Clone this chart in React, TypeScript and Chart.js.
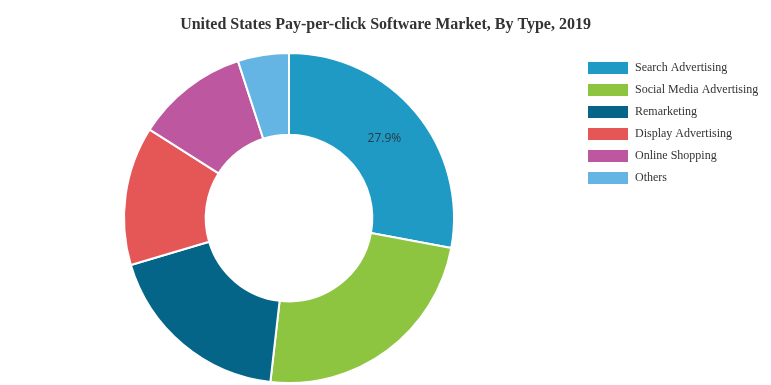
import React, { useEffect, useRef } from "react";
import { Chart, registerables } from "chart.js";

Chart.register(...registerables);

const TITLE = "United States Pay-per-click Software Market, By Type, 2019";
const categories = [
  "Search Advertising",
  "Social Media Advertising",
  "Remarketing",
  "Display Advertising",
  "Online Shopping",
  "Others",
];
const shares = [27.9, 23.9, 18.6, 13.6, 11.0, 5.0];
const colors = ["#1e9ac4", "#8dc540", "#056589", "#e45756", "#bd57a0", "#64b5e4"];
const labelledIndex = [0];

const titleAndLegend = {
  id: "titleAndLegend",
  afterDraw(chart: any) {
    const ctx = chart.ctx;
    const labels = chart.data.labels as string[];
    const bg = chart.data.datasets[0].backgroundColor as string[];
    ctx.save();
    ctx.font = "bold 16px 'Liberation Serif', serif";
    ctx.fillStyle = "#333333";
    ctx.textAlign = "center";
    ctx.textBaseline = "alphabetic";
    ctx.fillText(TITLE, chart.width / 2, 29);

    ctx.font = "12px 'Liberation Serif', serif";
    ctx.textBaseline = "middle";
    ctx.textAlign = "left";
    labels.forEach((l, i) => {
      const y = 68 + i * 22;
      ctx.fillStyle = bg[i];
      ctx.fillRect(588, y - 6, 40, 12);
      ctx.fillStyle = "#333333";
      ctx.fillText(l, 635, y);
    });
    ctx.restore();
  },
};

const sliceLabels = {
  id: "sliceLabels",
  afterDatasetsDraw(chart: any) {
    const ctx = chart.ctx;
    const meta = chart.getDatasetMeta(0);
    const data = chart.data.datasets[0].data as number[];
    ctx.save();
    ctx.font = "12px 'Open Sans', sans-serif";
    ctx.fillStyle = "#2b3a44";
    ctx.textAlign = "center";
    ctx.textBaseline = "middle";
    labelledIndex.forEach((i) => {
      const arc = meta.data[i];
      const p = arc.tooltipPosition();
      ctx.fillText(data[i].toFixed(1) + "%", p.x, p.y);
    });
    ctx.restore();
  },
};

export default function App() {
  const ref = useRef<HTMLCanvasElement>(null);
  useEffect(() => {
    if (!ref.current) return;
    const chart = new Chart(ref.current, {
      type: "doughnut",
      data: {
        labels: categories,
        datasets: [
          {
            data: shares,
            backgroundColor: colors,
            borderColor: "#ffffff",
            borderWidth: 2,
            hoverOffset: 0,
          },
        ],
      },
      options: {
        responsive: false,
        animation: false,
        cutout: "50.5%",
        layout: { padding: { left: 123, right: 316, top: 52, bottom: 1 } },
        plugins: {
          legend: { display: false },
          tooltip: { enabled: false },
          title: { display: false },
        },
      },
      plugins: [titleAndLegend, sliceLabels],
    });
    return () => chart.destroy();
  }, []);
  return (
    <div style={{ position: "fixed", left: 0, top: 0, width: 771, height: 385, background: "#fff" }}>
      <canvas ref={ref} width={771} height={385} style={{ display: "block" }} />
    </div>
  );
}
